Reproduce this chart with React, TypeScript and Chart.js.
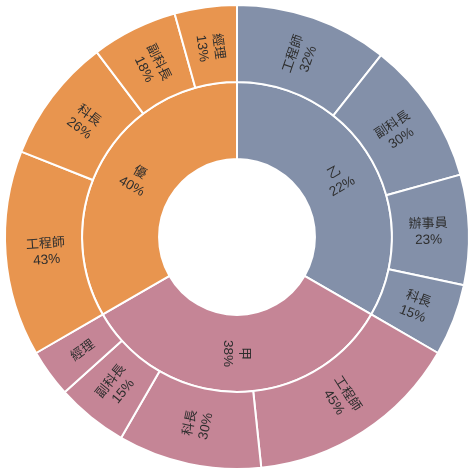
import React, { useEffect, useRef } from "react";
import { Chart, ArcElement, DoughnutController } from "chart.js";

Chart.register(ArcElement, DoughnutController);

// inner ring: grades, with their share as printed on the chart
const groups = ["乙", "甲", "優"];
const groupShare = [22, 38, 40];
const groupColors = ["#8390a9", "#c58596", "#e8954f"];

// outer ring: roles inside each grade (percent of parent)
const roleNames = [
  ["工程師", "副科長", "辦事員", "科長"],
  ["工程師", "科長", "副科長", "經理"],
  ["工程師", "科長", "副科長", "經理"],
];
const roleShare = [
  [32, 30, 23, 15],
  [45, 30, 15, 10],
  [43, 26, 18, 13],
];

const NAME_FONT = '13px "Noto Sans CJK TC", sans-serif';
const PCT_FONT = '13.5px "Liberation Sans", Arial, sans-serif';

const sunburstLabels = {
  id: "sunburstLabels",
  afterDatasetsDraw(chart: any) {
    const ctx = chart.ctx as CanvasRenderingContext2D;
    const outerNames = roleNames.flat();
    const outerPct = roleShare.flat();
    chart.data.datasets.forEach((_ds: any, di: number) => {
      const meta = chart.getDatasetMeta(di);
      meta.data.forEach((arc: any, i: number) => {
        const { x, y, startAngle, endAngle, innerRadius, outerRadius } =
          arc.getProps(
            ["x", "y", "startAngle", "endAngle", "innerRadius", "outerRadius"],
            true
          );
        let mid = (startAngle + endAngle) / 2;
        mid = Math.atan2(Math.sin(mid), Math.cos(mid));
        const r = (innerRadius + outerRadius) / 2 - (di === 0 ? 2 : 0);
        const px = x + Math.cos(mid) * r;
        const py = y + Math.sin(mid) * r;
        let rot = mid;
        if (rot > Math.PI / 2 + 0.001) rot -= Math.PI;
        else if (rot < -Math.PI / 2) rot += Math.PI;

        const name = di === 0 ? outerNames[i] : groups[i];
        const pct = di === 0 ? outerPct[i] : groupShare[i];
        const showPct = endAngle - startAngle > 0.24;

        ctx.save();
        ctx.translate(px, py);
        ctx.rotate(rot);
        ctx.fillStyle = "#2e2e2e";
        ctx.textAlign = "center";
        ctx.textBaseline = "middle";
        ctx.font = NAME_FONT;
        ctx.fillText(name, 0, showPct ? -8.5 : 0);
        if (showPct) {
          ctx.font = PCT_FONT;
          ctx.fillText(pct + "%", 0, 9);
        }
        ctx.restore();
      });
    });
  },
};

const App: React.FC = () => {
  const canvasRef = useRef<HTMLCanvasElement | null>(null);
  const chartRef = useRef<Chart | null>(null);

  useEffect(() => {
    const ctx = canvasRef.current?.getContext("2d");
    if (!ctx) return;
    if (chartRef.current) chartRef.current.destroy();

    const outerColors = roleShare.flatMap((row, g) =>
      row.map(() => groupColors[g])
    );

    chartRef.current = new Chart(ctx, {
      type: "doughnut",
      data: {
        labels: roleNames.flat(),
        datasets: [
          {
            data: roleShare.flat(),
            backgroundColor: outerColors,
            borderColor: "#ffffff",
            borderWidth: 2,
          },
          {
            data: roleShare.map((row) => row.reduce((a, b) => a + b, 0)),
            backgroundColor: groupColors,
            borderColor: "#ffffff",
            borderWidth: 2,
          },
        ],
      },
      options: {
        animation: false,
        responsive: true,
        maintainAspectRatio: false,
        cutout: "33.6%",
        events: [],
        layout: { padding: 4 },
        plugins: {
          legend: { display: false },
          tooltip: { enabled: false },
        },
      },
      plugins: [sunburstLabels],
    });

    return () => {
      if (chartRef.current) {
        chartRef.current.destroy();
        chartRef.current = null;
      }
    };
  }, []);

  return (
    <div
      style={{
        position: "fixed",
        left: 0,
        top: 0,
        width: 474,
        height: 474,
        background: "#fff",
      }}
    >
      <canvas ref={canvasRef}></canvas>
    </div>
  );
};

export default App;
